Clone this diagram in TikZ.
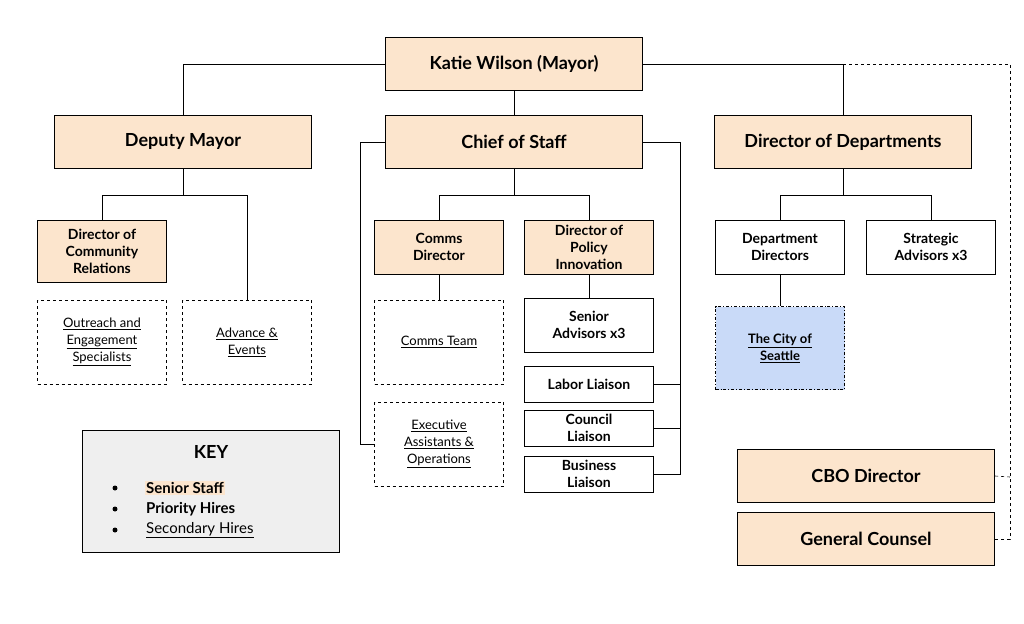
\documentclass[tikz,border=0pt]{standalone}
\usepackage{fontspec}
\setmainfont{Lato}
\usetikzlibrary{positioning}
\definecolor{peach}{HTML}{FCE5CD}
\definecolor{seablue}{HTML}{C9DAF8}
\definecolor{keygray}{HTML}{EFEFEF}
\begin{document}
\begin{tikzpicture}[x=1pt,y=-1pt,
    box/.style={draw,line width=0.8pt,align=center,inner sep=0pt},
    big/.style={box,fill=peach,minimum width=257pt,minimum height=53pt,font=\bfseries\fontsize{18}{20}\selectfont},
    senior/.style={box,fill=peach,minimum width=129pt,minimum height=54pt,font=\bfseries\fontsize{14}{17}\selectfont},
    prio/.style={box,fill=white,minimum width=129pt,minimum height=54pt,font=\bfseries\fontsize{14}{17}\selectfont},
    second/.style={box,dashed,minimum width=129pt,minimum height=84pt,font=\fontsize{13}{17}\selectfont},
    conn/.style={line width=0.6pt}]
\useasboundingbox (0,0) rectangle (1024,623);
% top row
\node[big] (mayor) at (514,64) {Katie Wilson (Mayor)};
\node[big] (deputy) at (183,142) {Deputy Mayor};
\node[big] (chief) at (514,142) {Chief of Staff};
\node[big] (depts) at (843,142) {Director of Departments};
% deputy branch
\node[senior,minimum height=62pt] (community) at (102,251) {Director of\\Community\\Relations};
\node[second] (outreach) at (102,342) {\underline{Outreach and}\\\underline{Engagement}\\\underline{Specialists}};
\node[second] (advance) at (247,342) {\underline{Advance \&}\\\underline{Events}};
% chief branch
\node[senior] (comms) at (439,247) {Comms\\Director};
\node[senior] (policy) at (589,247) {Director of\\Policy\\Innovation};
\node[second] (team) at (439,342) {\underline{Comms Team}};
\node[second] (exec) at (439,444) {\underline{Executive}\\\underline{Assistants \&}\\\underline{Operations}};
\node[prio] (advisors) at (589,325) {Senior\\Advisors x3};
\node[prio,minimum height=36pt] (labor) at (589,384) {Labor Liaison};
\node[prio,minimum height=36pt] (council) at (589,428) {Council\\Liaison};
\node[prio,minimum height=36pt] (business) at (589,474) {Business\\Liaison};
% departments branch
\node[prio] (deptdir) at (780,247) {Department\\Directors};
\node[prio] (strategic) at (931,247) {Strategic\\Advisors x3};
\node[box,dash dot,fill=seablue,minimum width=129pt,minimum height=83pt,font=\bfseries\fontsize{13}{17}\selectfont] (seattle) at (780,348) {\underline{The City of}\\\underline{Seattle}};
\node[big] (cbo) at (866,476) {CBO Director};
\node[big] (counsel) at (866,539) {General Counsel};
% key
\node[box,fill=keygray,minimum width=257pt,minimum height=122pt] (key) at (211,491) {};
\node[font=\bfseries\fontsize{18}{20}\selectfont] (keytitle) at (211,452) {KEY};
\node[anchor=west,fill=peach,inner sep=1pt,font=\bfseries\fontsize{15}{18}\selectfont] (k1) at (145,488) {Senior Staff};
\node[anchor=west,inner sep=1pt,font=\bfseries\fontsize{15}{18}\selectfont] (k2) at (145,509) {Priority Hires};
\node[anchor=west,inner sep=1pt,font=\fontsize{15}{18}\selectfont] (k3) at (145,530) {\underline{Secondary Hires}};
\foreach \k in {k1,k2,k3}
  \fill ([xshift=-30pt]\k.west) circle (2.5pt);
% connectors
\draw[conn] (mayor.west) -| (deputy.north);
\draw[conn] (mayor.south) -- (chief.north);
\draw[conn] (mayor.east) -| (depts.north);
\draw[conn,dashed] (843,64) -- (1010,64) |- (counsel.east);
\draw[conn,dashed] (1010,477) -- (cbo.east);
\draw[conn] (deputy.south) -- (183,195) -| (community.north);
\draw[conn] (183,195) -| (advance.north);
\draw[conn] (chief.south) -- (514,195) -| (comms.north);
\draw[conn] (514,195) -| (policy.north);
\draw[conn] (comms.south) -- (team.north);
\draw[conn] (policy.south) -- (advisors.north);
\draw[conn] (chief.west) -- (360,142) |- (exec.west);
\draw[conn] (chief.east) -- (680,142) |- (business.east);
\draw[conn] (680,384) -- (labor.east);
\draw[conn] (680,428) -- (council.east);
\draw[conn] (depts.south) -- (843,195) -| (deptdir.north);
\draw[conn] (843,195) -| (strategic.north);
\draw[conn] (deptdir.south) -- (seattle.north);
\end{tikzpicture}
\end{document}
